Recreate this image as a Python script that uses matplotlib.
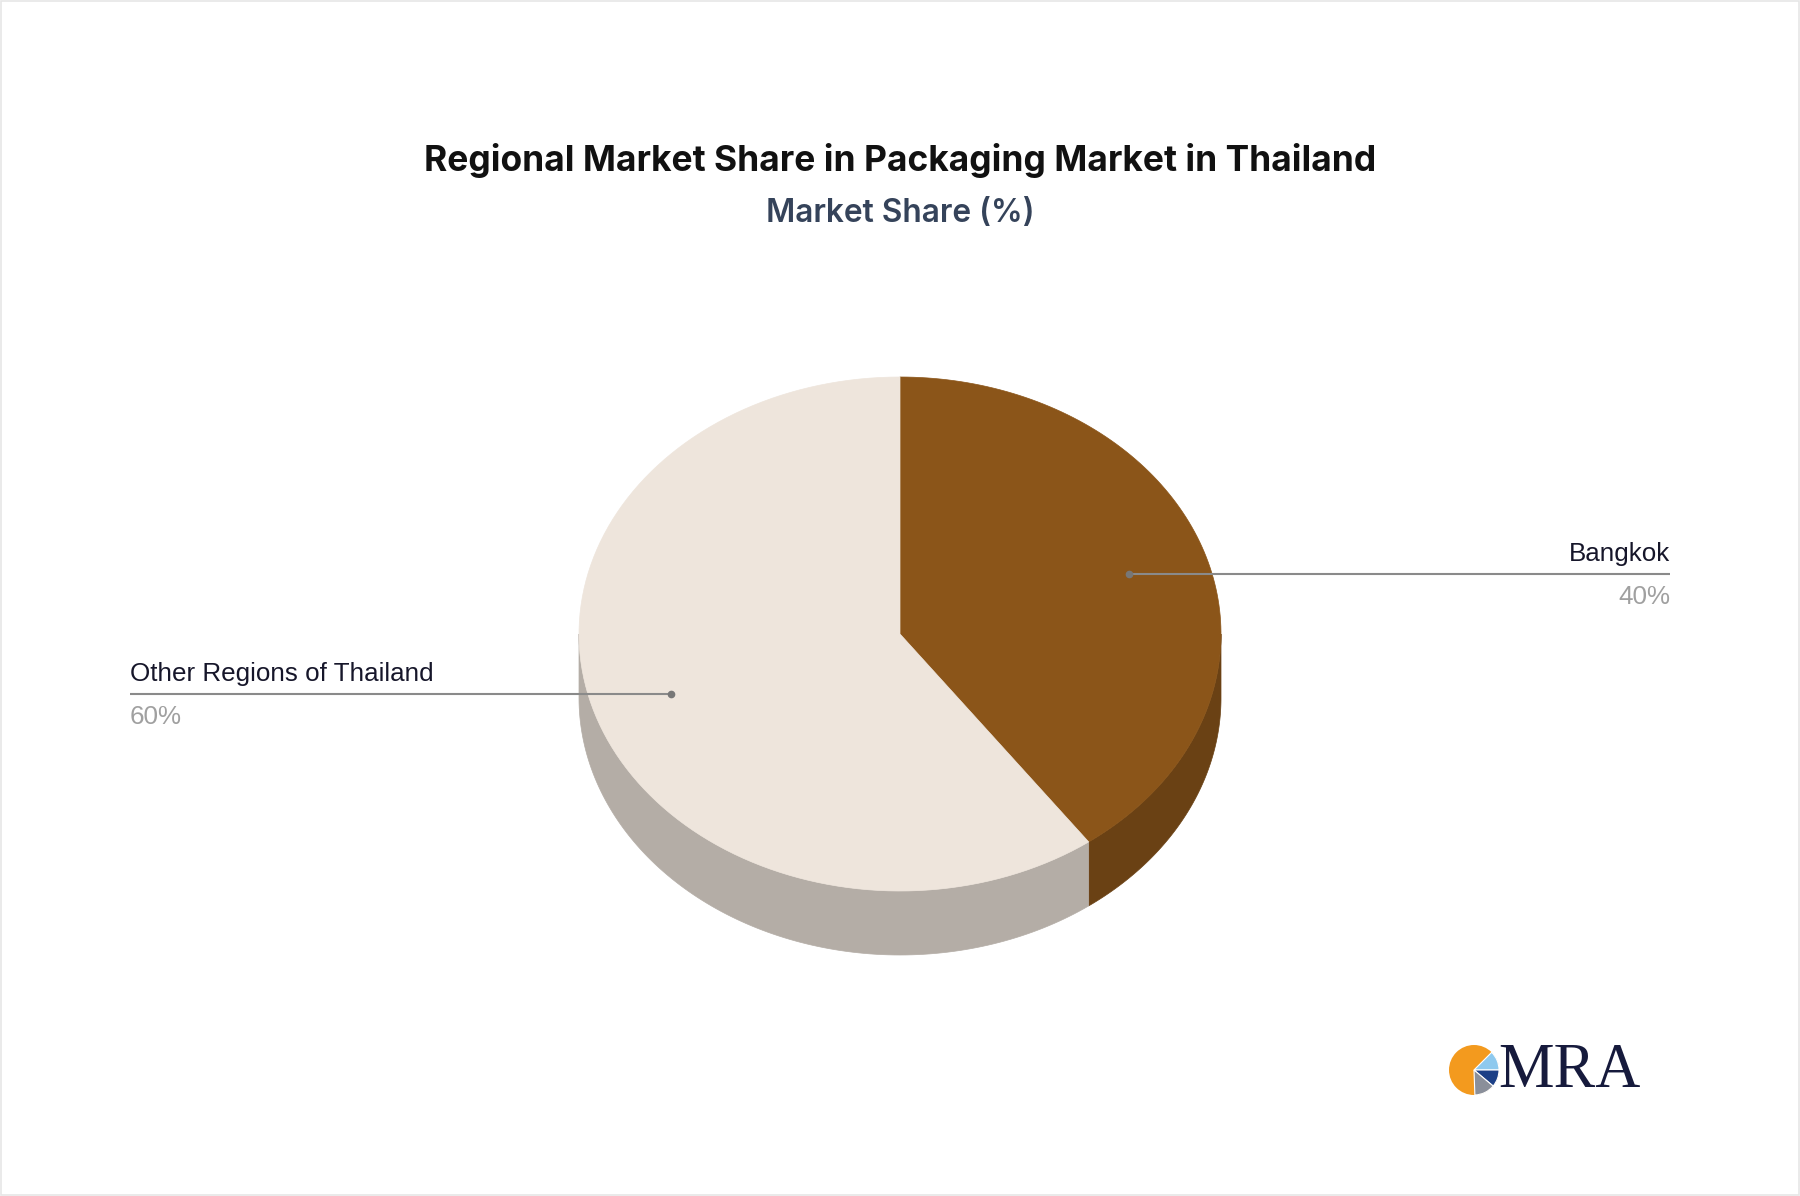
import numpy as np
import matplotlib.pyplot as plt
from matplotlib.patches import Polygon, Circle, Wedge, Rectangle

# data
regions = ["Bangkok", "Other Regions of Thailand"]
shares = [40, 60]
top_colors = ["#8B5519", "#EEE5DC"]
side_colors = ["#6A4114", "#B4ADA6"]

W, H = 1800, 1196
cx, cy = 900, 634      # centre of the top face (pixels)
rx, ry = 321, 257      # ellipse radii
depth = 64


def ellipse_pts(a0, a1, yoff=0.0, n=120):
    t = np.radians(np.linspace(a0, a1, n))
    return np.column_stack([cx + rx * np.cos(t), cy - ry * np.sin(t) + yoff])


fig = plt.figure(figsize=(18, 11.96), dpi=100)
ax = fig.add_axes([0, 0, 1, 1])
ax.set_xlim(0, W)
ax.set_ylim(H, 0)
ax.axis("off")

ax.add_patch(Rectangle((1, 1), W - 2, H - 2, fill=False, ec="#e6e6e6", lw=1.2))

# slice angles, clockwise from 12 o'clock
total = float(sum(shares))
starts, ends = [], []
a = 90.0
for s in shares:
    starts.append(a)
    a -= 360.0 * s / total
    ends.append(a)

# side walls (only the front half, angles between 0 and -180)
for a0, a1, col in zip(starts, ends, side_colors):
    lo = max(a1, -180.0)
    hi = min(a0, 0.0)
    if hi <= lo:
        continue
    top = ellipse_pts(hi, lo)
    bot = ellipse_pts(lo, hi, yoff=depth)
    ax.add_patch(Polygon(np.vstack([top, bot]), closed=True, fc=col, ec=col, lw=0.5))

# top faces
for a0, a1, col in zip(starts, ends, top_colors):
    arc = ellipse_pts(a0, a1)
    pts = np.vstack([[cx, cy], arc])
    ax.add_patch(Polygon(pts, closed=True, fc=col, ec=col, lw=0.5))

# leader lines and labels
for name, s, a0, a1 in zip(regions, shares, starts, ends):
    mid = np.radians((a0 + a1) / 2)
    px = cx + 0.75 * rx * np.cos(mid)
    py = cy - 0.75 * ry * np.sin(mid)
    right = np.cos(mid) > 0
    xend = 1670 if right else 130
    ax.plot([px, xend], [py, py], color="#8a8a8a", lw=1.5, solid_capstyle="butt")
    ax.plot(px, py, "o", color="#777777", ms=4.5)
    ha = "right" if right else "left"
    ax.text(xend, py - 8, name, ha=ha, va="bottom", fontsize=18.7,
            family="Liberation Sans", color="#16162a")
    ax.text(xend, py + 11, f"{s}%", ha=ha, va="top", fontsize=18.7,
            family="Liberation Sans", color="#a0a0a0")

# titles
ax.text(900, 161, "Regional Market Share in Packaging Market in Thailand", ha="center",
        va="center", fontsize=25.5, fontweight="bold", family="Inter", color="#111111")
ax.text(900, 214, "Market Share (%)", ha="center", va="center", fontsize=22.8,
        fontweight="semibold", family="Inter", color="#35435a")

# logo (y axis is inverted, so wedge angles are mirrored)
lx, ly, lr = 1474, 1070, 25
ax.add_patch(Circle((lx, ly), lr, fc="#F39A1E", ec="none"))
ax.add_patch(Wedge((lx, ly), lr, -45, 0, fc="#8ec9ee", ec="white", lw=0.8))
ax.add_patch(Wedge((lx, ly), lr, 0, 40, fc="#1c3f86", ec="white", lw=0.8))
ax.add_patch(Wedge((lx, ly), lr, 40, 88, fc="#8a8f9a", ec="white", lw=0.8))
ax.text(1498, 1072, "MRA", ha="left", va="center", fontsize=45, family="Liberation Serif",
        color="#161a3c")

fig.savefig("out.png", dpi=100)
